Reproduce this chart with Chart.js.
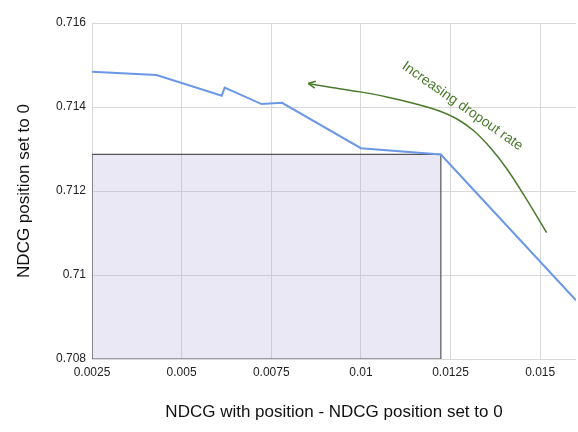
<!DOCTYPE html>
<html><head><meta charset="utf-8">
<script src="https://cdn.jsdelivr.net/npm/chart.js@4/dist/chart.umd.min.js"></script>
<style>html,body{margin:0;padding:0;background:#fff}#wrap{width:578px;height:432px}</style>
</head><body><div id="wrap"><canvas id="c" width="578" height="432"></canvas></div>
<script>
// Blue curve (x: NDCG with position - NDCG position set to 0, y: NDCG position set to 0)
const curveX = [0.0025, 0.0043, 0.00612, 0.0062, 0.00723, 0.0078, 0.0100, 0.01223, 0.0160];
const curveY = [0.71484, 0.71476, 0.71427, 0.71446, 0.71407, 0.7141, 0.71302, 0.71287, 0.7094];
// Shaded rectangle corners
const boxX = [0.0025, 0.0025, 0.01223, 0.01223, 0.0025];
const boxY = [0.708, 0.71287, 0.71287, 0.708, 0.708];
// Annotation arrow path (from tip to tail)
const arrowX = [0.00853, 0.00923, 0.00998, 0.01072, 0.01146, 0.01221, 0.01267, 0.01314, 0.0136, 0.01407, 0.01463, 0.01518];
const arrowY = [0.71456, 0.71446, 0.71436, 0.71424, 0.71409, 0.7139, 0.71372, 0.71344, 0.71304, 0.71253, 0.71179, 0.71101];
const annText = "Increasing dropout rate";
const annPos = [0.01283, 0.71402];
const xTicks = [0.0025, 0.005, 0.0075, 0.01, 0.0125, 0.015];
const yTicks = [0.708, 0.71, 0.712, 0.714, 0.716];
const xTitle = "NDCG with position - NDCG position set to 0";
const yTitle = "NDCG position set to 0";

const green = '#4a7a2c';
const font = "'Liberation Sans', Arial, sans-serif";

const annPlugin = {
  id: 'ann',
  afterDatasetsDraw(chart) {
    const ctx = chart.ctx, xs = chart.scales.x, ys = chart.scales.y;
    const p0x = xs.getPixelForValue(arrowX[0]), p0y = ys.getPixelForValue(arrowY[0]);
    const p1x = xs.getPixelForValue(arrowX[1]), p1y = ys.getPixelForValue(arrowY[1]);
    const ang = Math.atan2(p0y - p1y, p0x - p1x);
    ctx.save();
    ctx.strokeStyle = green; ctx.fillStyle = green; ctx.lineWidth = 1.5;
    ctx.beginPath();
    ctx.moveTo(p0x, p0y);
    ctx.lineTo(p0x - 8*Math.cos(ang - 0.45), p0y - 8*Math.sin(ang - 0.45));
    ctx.moveTo(p0x, p0y);
    ctx.lineTo(p0x - 8*Math.cos(ang + 0.45), p0y - 8*Math.sin(ang + 0.45));
    ctx.stroke();
    const tx = xs.getPixelForValue(annPos[0]), ty = ys.getPixelForValue(annPos[1]);
    ctx.translate(tx, ty);
    ctx.rotate(35 * Math.PI / 180);
    ctx.font = "14px " + font;
    ctx.textAlign = 'center'; ctx.textBaseline = 'middle';
    ctx.fillText(annText, 0, 0);
    ctx.restore();
  }
};

new Chart(document.getElementById('c'), {
  type: 'scatter',
  data: {
    datasets: [
      {
        data: [{x: boxX[1], y: boxY[1]}, {x: boxX[2], y: boxY[2]}],
        showLine: true, fill: 'start', tension: 0,
        borderWidth: 0, borderColor: 'rgba(0,0,0,0)',
        backgroundColor: 'rgba(175,165,220,0.25)', pointRadius: 0, order: 4
      },
      {
        data: boxX.map((x, i) => ({x, y: boxY[i]})),
        showLine: true, fill: false, tension: 0,
        borderColor: '#555555', borderWidth: 1.2,
        pointRadius: 0, order: 3
      },
      {
        data: curveX.map((x, i) => ({x, y: curveY[i]})),
        showLine: true, fill: false, tension: 0,
        borderColor: '#6b98e6', borderWidth: 2, pointRadius: 0, order: 1
      },
      {
        data: arrowX.map((x, i) => ({x, y: arrowY[i]})),
        showLine: true, fill: false, cubicInterpolationMode: 'monotone',
        borderColor: green, borderWidth: 1.5, pointRadius: 0, order: 2
      }
    ]
  },
  options: {
    responsive: false, animation: false,
    layout: { padding: { top: 23, right: 2, left: 0, bottom: 0 } },
    plugins: { legend: { display: false }, tooltip: { enabled: false }, filler: { propagate: false } },
    scales: {
      x: {
        type: 'linear', min: 0.0025, max: 0.016,
        afterBuildTicks: s => { s.ticks = xTicks.map(v => ({value: v})); },
        afterFit: s => { s.height = 73; },
        grid: { color: '#d9d9d9', drawTicks: false },
        border: { display: false },
        ticks: { padding: 6, maxRotation: 0, color: '#222', font: { family: font, size: 12 },
                 callback: v => String(+v.toFixed(4)) },
        title: { display: true, text: xTitle, color: '#111', font: { family: font, size: 17 }, padding: { top: 22, bottom: 9 } }
      },
      y: {
        type: 'linear', min: 0.708, max: 0.716,
        afterBuildTicks: s => { s.ticks = yTicks.map(v => ({value: v})); },
        afterFit: s => { s.width = 92; },
        grid: { color: '#d9d9d9', drawTicks: false },
        border: { display: false },
        ticks: { padding: 6, color: '#222', font: { family: font, size: 12 },
                 callback: v => String(+v.toFixed(3)) },
        title: { display: true, text: yTitle, color: '#111', font: { family: font, size: 17 }, padding: { top: 14, bottom: 10 } }
      }
    }
  },
  plugins: [annPlugin]
});
</script></body></html>
